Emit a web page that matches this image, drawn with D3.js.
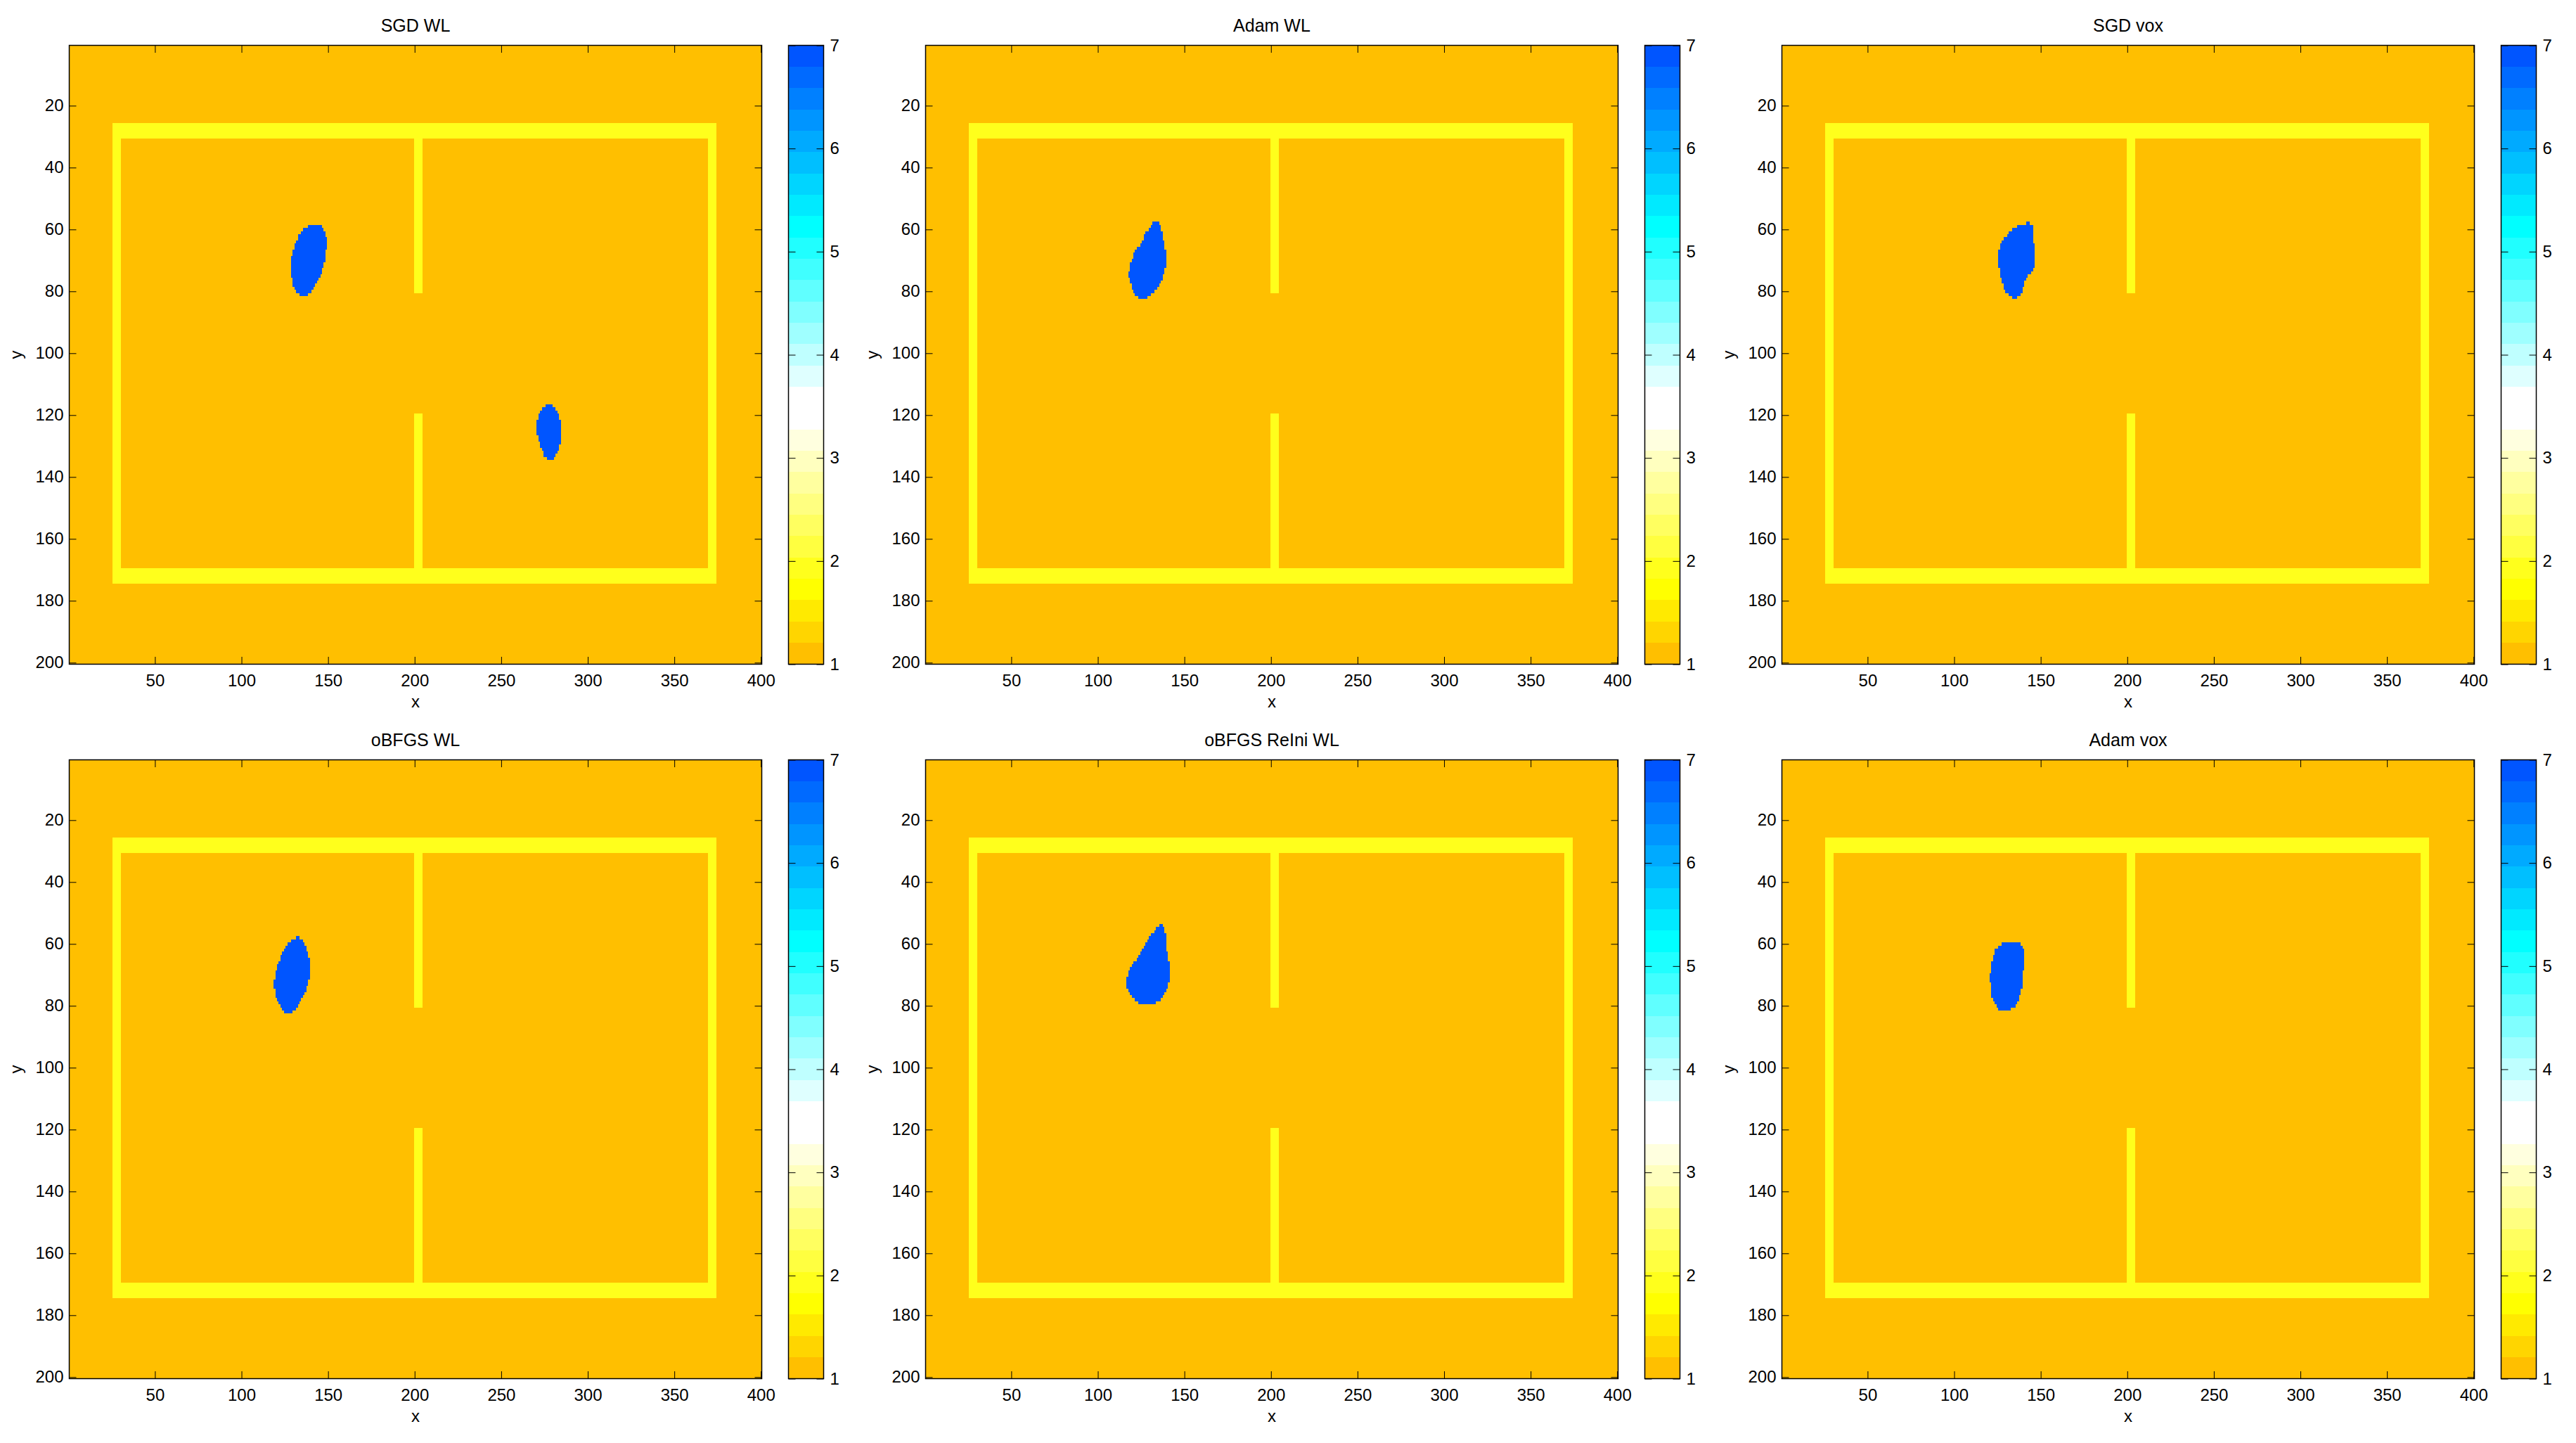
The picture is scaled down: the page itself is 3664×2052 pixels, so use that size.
<!DOCTYPE html>
<html>
<head>
<meta charset="utf-8">
<script src="https://cdn.jsdelivr.net/npm/d3@7"></script>
<style>
html, body { margin: 0; padding: 0; background: #fff; }
svg { display: block; }
text { font-family: "Liberation Sans", Arial, sans-serif; fill: #000; }
</style>
</head>
<body>
<script>
const titles = ["SGD WL", "Adam WL", "SGD vox", "oBFGS WL", "oBFGS ReIni WL", "Adam vox"]

const xTicks = [50, 100, 150, 200, 250, 300, 350, 400]
const yTicks = [20, 40, 60, 80, 100, 120, 140, 160, 180, 200]
const barTicks = [1, 2, 3, 4, 5, 6, 7]

const BACKGROUND = 1, WALL = 2, BLOB = 7

// colStart, colEnd, rowStart, rowEnd, same for every panel
const walls = [
    [26, 374, 26, 30],
    [26, 374, 170, 174],
    [26, 30, 26, 174],
    [370, 374, 26, 174],
    [200, 204, 26, 80],
    [200, 204, 120, 174]
]

// blobs, one entry per image row: row, colStart, colEnd
const sgdWlBlobA = [[59,139,146],[60,136,147],[61,135,148],[62,133,148],[63,133,149],[64,132,149],[65,131,149],[66,131,149],[67,130,148],[68,130,148],[69,129,148],[70,129,148],[71,129,147],[72,129,147],[73,129,146],[74,129,146],[75,129,145],[76,130,144],[77,130,143],[78,130,142],[79,131,141],[80,132,140],[81,134,138]]
const sgdWlBlobB = [[117,276,279],[118,274,281],[119,273,282],[120,272,283],[121,272,283],[122,271,284],[123,271,284],[124,271,284],[125,271,284],[126,271,284],[127,272,284],[128,272,284],[129,273,284],[130,273,283],[131,274,283],[132,275,282],[133,275,281],[134,277,280]]
const adamWlBlob = [[58,132,135],[59,131,136],[60,130,136],[61,128,137],[62,127,137],[63,127,137],[64,126,138],[65,125,138],[66,123,138],[67,122,139],[68,121,139],[69,121,139],[70,120,139],[71,119,139],[72,119,139],[73,119,138],[74,118,138],[75,118,137],[76,119,137],[77,119,136],[78,120,135],[79,120,134],[80,121,132],[81,122,130],[82,124,128]]
const sgdVoxBlob = [[58,142,143],[59,137,145],[60,134,145],[61,132,145],[62,131,145],[63,129,145],[64,128,145],[65,127,146],[66,127,146],[67,126,146],[68,126,146],[69,126,146],[70,126,146],[71,126,146],[72,126,146],[73,127,145],[74,127,144],[75,127,142],[76,128,141],[77,128,140],[78,129,140],[79,129,139],[80,130,139],[81,132,138],[82,134,136]]
const obfgsWlBlob = [[58,132,133],[59,129,135],[60,127,136],[61,126,137],[62,125,137],[63,124,138],[64,123,138],[65,123,139],[66,122,139],[67,121,139],[68,121,139],[69,120,139],[70,120,139],[71,120,139],[72,119,138],[73,119,138],[74,119,137],[75,120,137],[76,120,136],[77,120,135],[78,121,134],[79,122,133],[80,123,132],[81,124,131],[82,125,129]]
const obfgsReiniBlob = [[54,136,137],[55,134,138],[56,133,138],[57,131,139],[58,130,139],[59,129,139],[60,128,139],[61,127,139],[62,126,139],[63,125,140],[64,124,140],[65,123,140],[66,121,141],[67,120,141],[68,119,141],[69,118,141],[70,118,141],[71,117,141],[72,117,141],[73,117,140],[74,117,140],[75,118,139],[76,119,138],[77,120,137],[78,122,136],[79,124,133]]
const adamVoxBlob = [[60,128,138],[61,126,139],[62,124,140],[63,124,140],[64,123,140],[65,123,140],[66,122,140],[67,122,140],[68,122,140],[69,122,139],[70,121,139],[71,121,139],[72,121,139],[73,122,139],[74,122,139],[75,122,138],[76,122,138],[77,122,137],[78,123,137],[79,124,136],[80,125,135],[81,126,132]]

const panelBlobs = [
    [sgdWlBlobA, sgdWlBlobB],
    [adamWlBlob],
    [sgdVoxBlob],
    [obfgsWlBlob],
    [obfgsReiniBlob],
    [adamVoxBlob]
]

// 29 level colormap, orange to yellow to white to cyan to blue
const palette = ["#ffbf00","#ffd500","#ffea00","#ffff00","#ffff1c","#ffff40","#ffff60","#ffff80","#ffff9f","#ffffbf","#ffffdf","#ffffff","#ffffff","#dfffff","#bfffff","#9fffff","#80ffff","#60ffff","#40ffff","#20ffff","#00ffff","#00eaff","#00d5ff","#00bfff","#00aaff","#0095ff","#0080ff","#006aff","#0055ff"]

const W = 3664, H = 2052
const colLeft = [98.5, 1316.5, 2534.5]
const rowTop = [64.5, 1080.5]
const plotW = 985, plotH = 880
const barGap = 38, barW = 50
const fontSize = 24, titleSize = 25

const color = d3.scaleQuantize().domain([1, 7]).range(palette)

let svg = d3.select("body").append("svg").attr("width", W).attr("height", H)

// builds the 200x400 image for one panel and cuts it into runs per row
function buildRuns(blobs) {
    let field = d3.range(200).map(() => new Array(400).fill(BACKGROUND))
    walls.forEach(w => {
        for (let r = w[2]; r <= w[3]; r++)
            for (let c = w[0]; c <= w[1]; c++) field[r - 1][c - 1] = WALL
    })
    blobs.forEach(b => b.forEach(s => {
        for (let c = s[1]; c <= s[2]; c++) field[s[0] - 1][c - 1] = BLOB
    }))
    let runs = []
    field.forEach((line, r) => {
        let start = 0
        for (let c = 1; c <= 400; c++) {
            if (c == 400 || line[c] != line[start]) {
                runs.push({ row: r + 1, c0: start + 1, c1: c, value: line[start] })
                start = c
            }
        }
    })
    return runs
}

function drawPanel(i) {
    let left = colLeft[i % 3]
    let top = rowTop[Math.floor(i / 3)]
    let g = svg.append("g")

    let x = d3.scaleLinear().domain([0.5, 400.5]).range([left, left + plotW])
    let y = d3.scaleLinear().domain([0.5, 200.5]).range([top, top + plotH])

    g.append("g").attr("shape-rendering", "crispEdges")
        .selectAll("rect")
        .data(buildRuns(panelBlobs[i]))
        .enter()
        .append("rect")
        .attr("x", d => x(d.c0 - 0.5))
        .attr("y", d => y(d.row - 0.5))
        .attr("width", d => x(d.c1 + 0.5) - x(d.c0 - 0.5))
        .attr("height", d => y(d.row + 0.5) - y(d.row - 0.5))
        .attr("fill", d => color(d.value))

    // ticks on all four sides, labels only left and bottom
    let axes = [
        [d3.axisBottom(x).tickValues(xTicks).tickSize(-10.5).tickPadding(14), 0, top + plotH, true],
        [d3.axisTop(x).tickValues(xTicks).tickSize(-10.5), 0, top, false],
        [d3.axisLeft(y).tickValues(yTicks).tickSize(-10).tickPadding(8), left, 0, true],
        [d3.axisRight(y).tickValues(yTicks).tickSize(-10), left + plotW, 0, false]
    ]
    axes.forEach(a => {
        let ag = g.append("g").attr("transform", `translate(${a[1]},${a[2]})`).call(a[0])
        ag.select(".domain").remove()
        ag.selectAll("line").attr("stroke", "#000").attr("stroke-width", 1)
        ag.selectAll("text").attr("font-size", fontSize).attr("font-family", null)
        if (!a[3]) ag.selectAll("text").remove()
    })

    g.append("rect").attr("x", left).attr("y", top)
        .attr("width", plotW).attr("height", plotH)
        .attr("fill", "none").attr("stroke", "#000").attr("stroke-width", 1.5)

    g.append("text").attr("x", left + plotW / 2).attr("y", top - 20)
        .attr("text-anchor", "middle").attr("font-size", titleSize).text(titles[i])
    g.append("text").attr("x", left + plotW / 2).attr("y", top + plotH + 61)
        .attr("text-anchor", "middle").attr("font-size", fontSize).text("x")
    g.append("text").attr("transform", `translate(${left - 68},${top + plotH / 2}) rotate(-90)`)
        .attr("text-anchor", "middle").attr("font-size", fontSize).text("y")

    // colorbar
    let barLeft = left + plotW + barGap
    let barY = d3.scaleLinear().domain([1, 7]).range([top + plotH, top])
    g.append("g").attr("shape-rendering", "crispEdges")
        .selectAll("rect")
        .data(palette.map(p => color.invertExtent(p)))
        .enter()
        .append("rect")
        .attr("x", barLeft)
        .attr("y", d => barY(d[1]))
        .attr("width", barW)
        .attr("height", d => barY(d[0]) - barY(d[1]))
        .attr("fill", (d, k) => palette[k])

    let barAxes = [
        [d3.axisRight(barY).tickValues(barTicks).tickFormat(d3.format("d")).tickSize(-10).tickPadding(9), barLeft + barW, true],
        [d3.axisLeft(barY).tickValues(barTicks).tickFormat(d3.format("d")).tickSize(-10), barLeft, false]
    ]
    barAxes.forEach(a => {
        let ag = g.append("g").attr("transform", `translate(${a[1]},0)`).call(a[0])
        ag.select(".domain").remove()
        ag.selectAll("line").attr("stroke", "#000").attr("stroke-width", 1)
        ag.selectAll("text").attr("font-size", fontSize).attr("font-family", null)
        if (!a[2]) ag.selectAll("text").remove()
    })
    g.append("rect").attr("x", barLeft).attr("y", top)
        .attr("width", barW).attr("height", plotH)
        .attr("fill", "none").attr("stroke", "#000").attr("stroke-width", 1.5)
}

titles.forEach((t, i) => drawPanel(i))
</script>
</body>
</html>
